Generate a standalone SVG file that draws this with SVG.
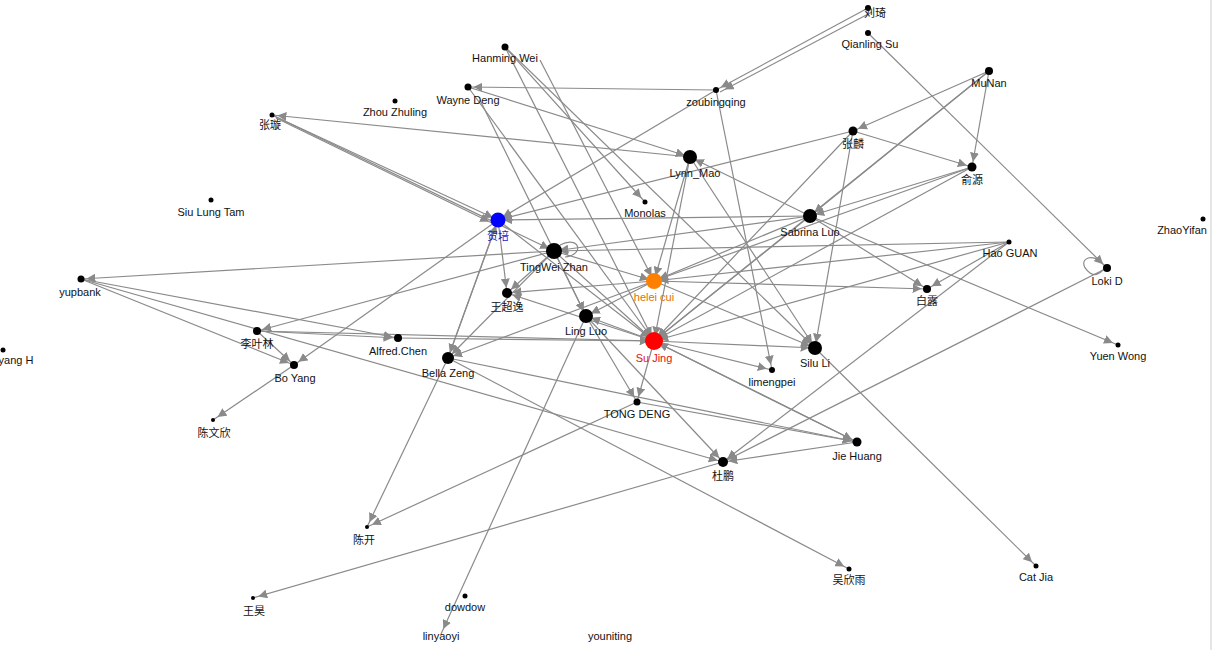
<svg xmlns="http://www.w3.org/2000/svg" width="1217" height="650" viewBox="0 0 1217 650">
<style>
text{font-family:"Liberation Sans","Noto Sans CJK SC",sans-serif;font-size:11px;fill:#111;text-anchor:middle}
.e{stroke:#8a8a8a;stroke-width:1.2;fill:none;marker-end:url(#a)}
.l{stroke:#8a8a8a;stroke-width:1.2;fill:none}
.n{fill:#000}
</style>
<defs><marker id="a" viewBox="0 0 10 10" refX="16" refY="5" markerWidth="9" markerHeight="9" markerUnits="userSpaceOnUse" orient="auto"><path d="M0,0L10,5L0,10z" fill="#8a8a8a"/></marker></defs>
<rect width="1217" height="650" fill="#fff"/>
<line x1="1211" y1="0" x2="1211" y2="650" stroke="#ccc"/>
<g id="edges">
<path class="e" d="M868,8L716,90"/><path class="e" d="M872,12L720,92"/>
<path class="e" d="M868,33L1107,268"/>
<path class="e" d="M505,47L654,341"/><path class="e" d="M505,47L815,348"/><path class="e" d="M505,47L645,202"/><path class="e" d="M540,60L654,281"/>
<path class="e" d="M716,90L468,87"/><path class="e" d="M468,87L690,157"/><path class="e" d="M468,87L654,341"/><path class="e" d="M480,100L586,316"/>
<path class="e" d="M716,90L772,370"/><path class="e" d="M716,90L498,220"/>
<path class="e" d="M989,71L853,131"/><path class="e" d="M989,71L972,167"/><path class="e" d="M989,71L810,216"/><path class="e" d="M989,71L654,341"/>
<path class="e" d="M853,131L972,167"/><path class="e" d="M853,131L815,348"/><path class="e" d="M853,131L498,220"/><path class="e" d="M853,131L654,341"/>
<path class="e" d="M690,157L272,115"/><path class="e" d="M690,157L654,281"/><path class="e" d="M690,157L654,341"/><path class="e" d="M690,157L815,348"/>
<path class="e" d="M972,167L810,216"/><path class="e" d="M972,167L654,281"/><path class="e" d="M972,167L654,341"/>
<path class="e" d="M810,216L498,220"/><path class="e" d="M810,216L554,251"/><path class="e" d="M810,216L654,281"/><path class="e" d="M810,216L927,289"/><path class="e" d="M810,216L1118,345"/><path class="e" d="M810,216L654,341"/><path class="e" d="M810,216L690,157"/>
<path class="e" d="M1009,242L554,251"/><path class="e" d="M1009,242L654,281"/><path class="e" d="M1009,242L654,341"/><path class="e" d="M1009,242L723,462"/><path class="e" d="M1009,242L927,289"/>
<path class="e" d="M1107,268L723,462"/>
<path class="l" d="M1103,264C1090,250 1075,262 1090,273C1094,276 1099,274 1103,270"/>
<path class="e" d="M554,251L81,279"/><path class="e" d="M81,279L294,365"/><path class="e" d="M81,279L398,338"/><path class="e" d="M81,279L723,462"/>
<path class="e" d="M554,251L654,341"/><path class="e" d="M554,251L586,316"/><path class="e" d="M554,251L654,281"/><path class="e" d="M554,251L257,331"/><path class="e" d="M554,251L507,293"/><path class="e" d="M554,251L448,358"/>
<path class="l" d="M560,245c20,-10,25,10,5,12"/>
<path class="e" d="M272,115L498,220"/><path class="e" d="M276,118L494,224"/><path class="e" d="M272,115L554,251"/>
<path class="e" d="M498,220L294,365"/><path class="e" d="M498,220L448,358"/><path class="e" d="M498,220L507,293"/><path class="e" d="M498,220L654,341"/><path class="e" d="M448,358L498,220"/>
<path class="e" d="M654,281L448,358"/><path class="e" d="M654,281L586,316"/><path class="e" d="M654,281L927,289"/><path class="e" d="M654,281L815,348"/><path class="e" d="M654,281L507,293"/>
<path class="e" d="M654,341L586,316"/><path class="e" d="M654,341L507,293"/><path class="e" d="M654,341L637,402"/><path class="e" d="M654,341L857,442"/><path class="e" d="M654,341L815,348"/><path class="e" d="M654,341L772,370"/>
<path class="e" d="M586,316L637,402"/><path class="e" d="M586,316L723,462"/><path class="e" d="M586,316L441,634"/>
<path class="e" d="M257,331L294,365"/><path class="e" d="M257,331L398,338"/><path class="e" d="M257,331L654,341"/>
<path class="e" d="M448,358L367,527"/><path class="e" d="M448,358L857,442"/><path class="e" d="M448,358L849,569"/>
<path class="e" d="M294,365L213,420"/>
<path class="e" d="M637,402L857,442"/><path class="e" d="M637,402L367,527"/>
<path class="e" d="M857,442L723,462"/><path class="e" d="M857,442L654,341"/>
<path class="e" d="M723,462L253,598"/>
<path class="e" d="M815,348L1036,566"/>
<path class="e" d="M398,338L654,341"/>
</g>
<g id="n1"><circle class="n" cx="868" cy="8" r="3"/><text x="875" y="17">刘琦</text></g>
<g id="n2"><circle class="n" cx="868" cy="33" r="3"/><text x="870" y="48">Qianling Su</text></g>
<g id="n3"><circle class="n" cx="505" cy="47" r="3.5"/><text x="505" y="62">Hanming Wei</text></g>
<g id="n4"><circle class="n" cx="468" cy="87" r="3.5"/><text x="468" y="104">Wayne Deng</text></g>
<g id="n5"><circle class="n" cx="716" cy="90" r="3"/><text x="716" y="106">zoubingqing</text></g>
<g id="n6"><circle class="n" cx="989" cy="71" r="4"/><text x="989" y="87">MuNan</text></g>
<g id="n7"><circle class="n" cx="395" cy="101" r="2.5"/><text x="395" y="116">Zhou Zhuling</text></g>
<g id="n8"><circle class="n" cx="272" cy="115" r="2.5"/><text x="270" y="129">张璇</text></g>
<g id="n9"><circle class="n" cx="853" cy="131" r="4.5"/><text x="853" y="148">张麟</text></g>
<g id="n10"><circle class="n" cx="690" cy="157" r="7"/><text x="695" y="177">Lynn_Mao</text></g>
<g id="n11"><circle class="n" cx="972" cy="167" r="4.5"/><text x="972" y="184">俞源</text></g>
<g id="n12"><circle class="n" cx="1203" cy="219" r="2.5"/><text x="1182" y="234">ZhaoYifan</text></g>
<g id="n13"><circle class="n" cx="211" cy="200" r="2.5"/><text x="211" y="216">Siu Lung Tam</text></g>
<g id="n14"><circle fill="#0000ff" cx="498" cy="220" r="7.5"/><text x="498" y="240" style="fill:#1a1ad0">贺培</text></g>
<g id="n15"><circle class="n" cx="645" cy="202" r="2.5"/><text x="645" y="217">Monolas</text></g>
<g id="n16"><circle class="n" cx="810" cy="216" r="7"/><text x="810" y="236">Sabrina Luo</text></g>
<g id="n17"><circle class="n" cx="554" cy="251" r="8"/><text x="554" y="271">TingWei Zhan</text></g>
<g id="n18"><circle class="n" cx="1009" cy="242" r="2.5"/><text x="1010" y="257">Hao GUAN</text></g>
<g id="n19"><circle class="n" cx="1107" cy="268" r="4"/><text x="1107" y="285">Loki D</text></g>
<g id="n20"><circle class="n" cx="81" cy="279" r="3.5"/><text x="80" y="296">yupbank</text></g>
<g id="n21"><circle fill="#ff8000" cx="654" cy="281" r="8"/><text x="654" y="301" style="fill:#e07000">helei cui</text></g>
<g id="n22"><circle class="n" cx="927" cy="289" r="4"/><text x="927" y="305">白露</text></g>
<g id="n23"><circle class="n" cx="507" cy="293" r="5"/><text x="507" y="311">王超逸</text></g>
<g id="n24"><circle class="n" cx="586" cy="316" r="7"/><text x="586" y="335">Ling Luo</text></g>
<g id="n25"><circle class="n" cx="257" cy="331" r="4"/><text x="257" y="348">李叶林</text></g>
<g id="n26"><circle class="n" cx="398" cy="338" r="4"/><text x="398" y="355">Alfred.Chen</text></g>
<g id="n27"><circle fill="#ff0000" cx="654" cy="341" r="9"/><text x="654" y="362" style="fill:#e01010">Su Jing</text></g>
<g id="n28"><circle class="n" cx="815" cy="348" r="7"/><text x="815" y="367">Silu Li</text></g>
<g id="n29"><circle class="n" cx="3" cy="350" r="2.5"/><text x="16" y="364">yang H</text></g>
<g id="n30"><circle class="n" cx="448" cy="358" r="6"/><text x="448" y="377">Bella Zeng</text></g>
<g id="n31"><circle class="n" cx="294" cy="365" r="4"/><text x="295" y="382">Bo Yang</text></g>
<g id="n32"><circle class="n" cx="772" cy="370" r="3"/><text x="772" y="386">limengpei</text></g>
<g id="n33"><circle class="n" cx="1118" cy="345" r="2.5"/><text x="1118" y="360">Yuen Wong</text></g>
<g id="n34"><circle class="n" cx="637" cy="402" r="3.5"/><text x="637" y="418">TONG DENG</text></g>
<g id="n35"><circle class="n" cx="213" cy="420" r="2"/><text x="214" y="437">陈文欣</text></g>
<g id="n36"><circle class="n" cx="857" cy="442" r="4.5"/><text x="857" y="460">Jie Huang</text></g>
<g id="n37"><circle class="n" cx="723" cy="462" r="5"/><text x="723" y="480">杜鹏</text></g>
<g id="n38"><circle class="n" cx="367" cy="527" r="2"/><text x="364" y="544">陈开</text></g>
<g id="n39"><circle class="n" cx="1036" cy="566" r="2.5"/><text x="1036" y="581">Cat Jia</text></g>
<g id="n40"><circle class="n" cx="849" cy="569" r="2.5"/><text x="849" y="584">吴欣雨</text></g>
<g id="n41"><circle class="n" cx="465" cy="596" r="2.5"/><text x="465" y="611">dowdow</text></g>
<g id="n42"><circle class="n" cx="253" cy="598" r="2"/><text x="254" y="615">王昊</text></g>
<g id="n43"><text x="441" y="640">linyaoyi</text></g>
<g id="n44"><text x="610" y="640">youniting</text></g>
</svg>
